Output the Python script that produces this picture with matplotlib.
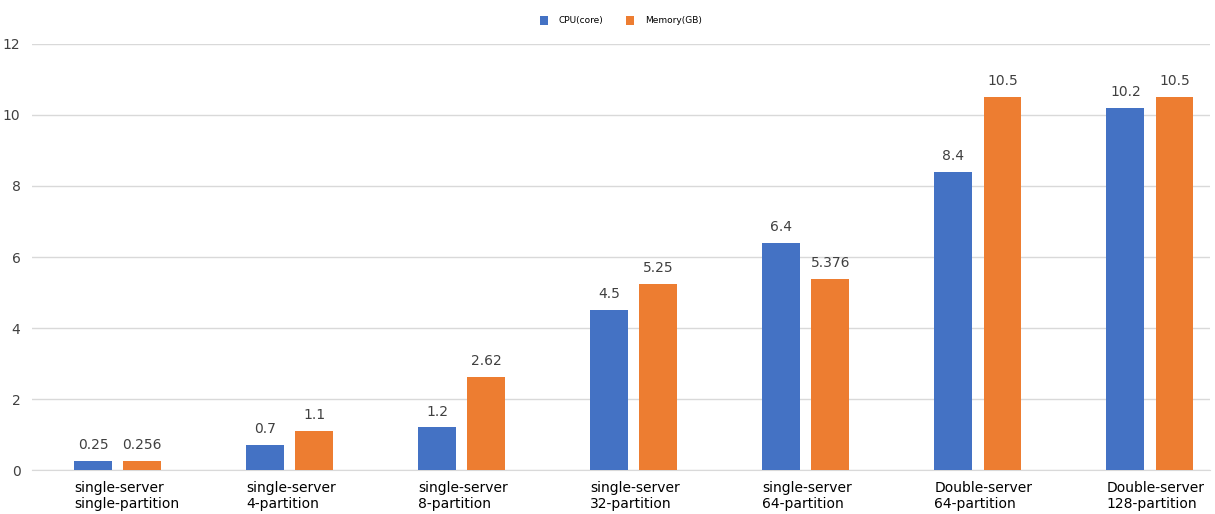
import numpy as np
import matplotlib.pyplot as plt

categories = ["single-server\nsingle-partition", "single-server\n4-partition",
              "single-server\n8-partition", "single-server\n32-partition",
              "single-server\n64-partition", "Double-server\n64-partition",
              "Double-server\n128-partition"]
cpu = [0.25, 0.7, 1.2, 4.5, 6.4, 8.4, 10.2]
memory = [0.256, 1.1, 2.62, 5.25, 5.376, 10.5, 10.5]
cpu_labels = ["0.25", "0.7", "1.2", "4.5", "6.4", "8.4", "10.2"]
mem_labels = ["0.256", "1.1", "2.62", "5.25", "5.376", "10.5", "10.5"]

blue = "#4472C4"
orange = "#ED7D31"

fig = plt.figure(figsize=(12.15, 5.14), dpi=100)
ax = fig.add_axes([0.026, 0.0856, 0.97, 0.8288])

x = np.arange(len(categories))
w = 0.22
off = 0.143
b1 = ax.bar(x - off, cpu, w, color=blue, label="CPU(core)", zorder=3)
b2 = ax.bar(x + off, memory, w, color=orange, label="Memory(GB)", zorder=3)

for bars, labs in [(b1, cpu_labels), (b2, mem_labels)]:
    for b, t in zip(bars, labs):
        ax.text(b.get_x() + b.get_width() / 2, b.get_height() + 0.25, t,
                ha="center", va="bottom", fontsize=10, color="#404040")

ax.set_xlim(-0.5, 6.35)
ax.set_ylim(0, 12)
ax.set_yticks(range(0, 13, 2))
ax.tick_params(axis="y", length=0, labelsize=10, labelcolor="#404040", pad=8)
ax.grid(axis="y", color="#d9d9d9", linewidth=1, zorder=0)

# category labels, left-aligned under the blue bars
ax.set_xticks(x - off - w / 2)
ax.set_xticklabels(categories, ha="left", fontsize=10, color="black",
                   linespacing=1.15)
ax.tick_params(axis="x", length=0, pad=8)

for s in ["top", "right", "left"]:
    ax.spines[s].set_visible(False)
ax.spines["bottom"].set_color("#d9d9d9")

ax.legend(loc="upper center", bbox_to_anchor=(0.5, 1.085), ncol=2, frameon=False,
          fontsize=6.5, handlelength=0.9, handleheight=1.1, handletextpad=1.2,
          columnspacing=2.5)

plt.savefig("out.png", dpi=100)
